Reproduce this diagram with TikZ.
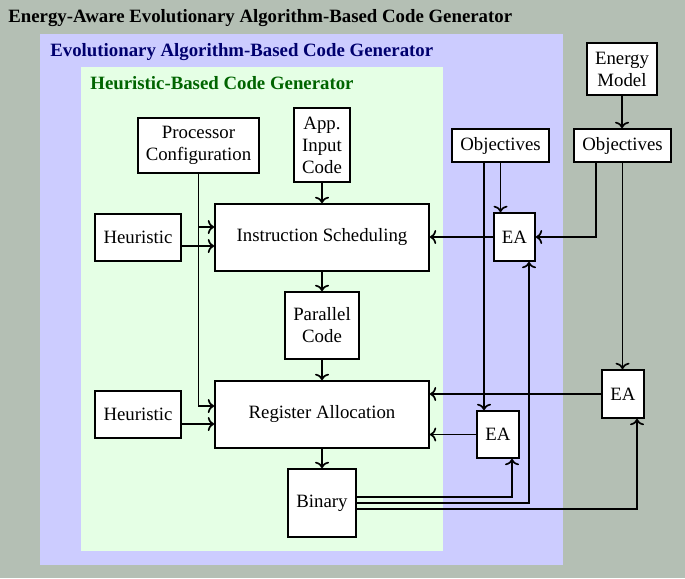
\documentclass[tikz,border=0pt]{standalone}
\usepackage{fontspec}
\setmainfont{Liberation Serif}
\usetikzlibrary{arrows.meta}
\definecolor{bggray}{RGB}{180,191,180}
\definecolor{eablue}{RGB}{204,204,255}
\definecolor{hgreen}{RGB}{229,255,229}
\definecolor{navytxt}{RGB}{0,0,110}
\definecolor{greentxt}{RGB}{0,100,0}
\begin{document}
\begin{tikzpicture}[x=0.5pt,y=-0.5pt,
  box/.style={draw=black, fill=white, line width=0.85pt, align=center, inner sep=0pt, font=\fontsize{9.4}{11}\selectfont},
  conn/.style={line width=0.85pt, -{To[width=7pt,length=3.2pt]}},
  titletext/.style={anchor=base west, inner sep=0pt, font=\fontsize{9.4}{11}\selectfont\bfseries}]
\useasboundingbox (0,0) rectangle (685,578);
\fill[bggray] (0,0) rectangle (685,578);
\fill[eablue] (40,34) rectangle (563,565);
\fill[hgreen] (81,67) rectangle (443,551);
\node[titletext] (t0) at (8,22.5) {Energy-Aware Evolutionary Algorithm-Based Code Generator};
\node[titletext, text=navytxt] (t1) at (50,56) {Evolutionary Algorithm-Based Code Generator};
\node[titletext, text=greentxt] (t2) at (90,89) {Heuristic-Based Code Generator};

\node[box, minimum width=60.5pt, minimum height=27.5pt] (pc) at (198.5,145.5) {Processor\\Configuration};
\node[box, minimum width=28pt, minimum height=37pt] (app) at (322,145) {App.\\Input\\Code};
\node[box, minimum width=43pt, minimum height=23.5pt] (h1) at (138,237.5) {Heuristic};
\node[box, minimum width=107pt, minimum height=33.5pt] (is) at (322,237.5) {Instruction Scheduling};
\node[box, minimum width=37pt, minimum height=33.5pt] (pcode) at (322,325.5) {Parallel\\Code};
\node[box, minimum width=43pt, minimum height=23.5pt] (h2) at (138,414.5) {Heuristic};
\node[box, minimum width=107pt, minimum height=33.5pt] (ra) at (322,414.5) {Register Allocation};
\node[box, minimum width=34pt, minimum height=34pt] (bin) at (322,503) {Binary};
\node[box, minimum width=48.5pt, minimum height=16.5pt] (obj1) at (500.5,145.5) {Objectives};
\node[box, minimum width=48.5pt, minimum height=16.5pt] (obj2) at (622.5,145.5) {Objectives};
\node[box, minimum width=20.5pt, minimum height=24pt] (ea1) at (514.5,237) {EA};
\node[box, minimum width=21pt, minimum height=23.5pt] (ea2) at (498,434.5) {EA};
\node[box, minimum width=21pt, minimum height=24pt] (ea3) at (623,394) {EA};
\node[box, minimum width=35pt, minimum height=26pt] (em) at (622,69) {Energy\\Model};

\draw[conn] (app) -- (is);
\draw[conn] (is) -- (pcode);
\draw[conn] (pcode) -- (ra);
\draw[conn] (ra) -- (bin);
\draw[conn] (pc.south) |- ([yshift=5.25pt]is.west);
\draw[conn] (pc.south) |- ([yshift=4.25pt]ra.west);
\draw[conn] ([yshift=-4.25pt]h1.east) -- ([yshift=-4.25pt]is.west);
\draw[conn] ([yshift=-4.75pt]h2.east) -- ([yshift=-4.75pt]ra.west);
\draw[conn] (ea1.west) -- (ea1.west -| is.east);
\draw[conn] (ea3.west) -- (ea3.west -| ra.east);
\draw[conn] (ea2.west) -- (ea2.west -| ra.east);
\draw[conn] (obj1.south) -- (obj1.south |- ea1.north);
\draw[conn] ([xshift=-8.25pt]obj1.south) -- ([xshift=-8.25pt]obj1.south |- ea2.north);
\draw[conn] ([xshift=-13.25pt]obj2.south) |- (ea1.east);
\draw[conn] (obj2.south) -- (obj2.south |- ea3.north);
\draw[conn] (em.south) -- (em.south |- obj2.north);
\draw[conn] ([yshift=3pt]bin.east) -| ([xshift=7pt]ea2.south);
\draw[conn] (bin.east) -| ([xshift=7.25pt]ea1.south);
\draw[conn] ([yshift=-3pt]bin.east) -| ([xshift=7pt]ea3.south);
\end{tikzpicture}
\end{document}
